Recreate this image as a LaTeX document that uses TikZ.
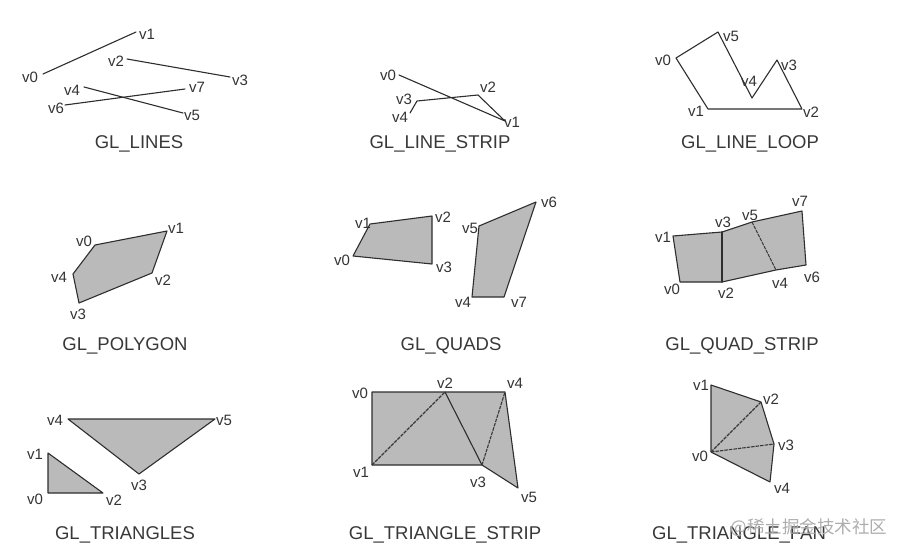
\documentclass[tikz,border=0pt]{standalone}
\usepackage{fontspec}
\setmainfont{Liberation Sans}
\newfontfamily\cjkwm{Noto Sans CJK SC}
\tikzset{
  vl/.style={font=\fontsize{15}{15}\selectfont,text=black!80,inner sep=0pt},
  ttl/.style={font=\fontsize{18.5}{18.5}\selectfont,text=black!78,inner sep=0pt},
  edge/.style={draw=black!82,line width=1.1pt,line join=round,line cap=round},
  inner edge/.style={draw=black!78,line width=1.1pt,dash pattern=on 3.5pt off 1pt},
  solid fill/.style={fill=black!27},
}
\begin{document}
\begin{tikzpicture}[x=1pt,y=-1pt]
\useasboundingbox (0,0) rectangle (905,557);
% GL_LINES
\coordinate (a0) at (43,74); \coordinate (a1) at (136,32);
\coordinate (a2) at (127,59); \coordinate (a3) at (230,77);
\coordinate (a4) at (84,87); \coordinate (a5) at (183,113);
\coordinate (a6) at (65,105); \coordinate (a7) at (185,89);
\draw[edge] (a0)--(a1); \draw[edge] (a2)--(a3); \draw[edge] (a4)--(a5); \draw[edge] (a6)--(a7);
\node[vl] (al0) at (30,77) {v0}; \node[vl] (al1) at (147,34) {v1};
\node[vl] (al2) at (116,61) {v2}; \node[vl] (al3) at (240,80) {v3};
\node[vl] (al4) at (72,90) {v4}; \node[vl] (al5) at (192,115) {v5};
\node[vl] (al6) at (56,108) {v6}; \node[vl] (al7) at (197,87) {v7};
\node[ttl] (at) at (139,144) {GL\_LINES};
% GL_LINE_STRIP
\coordinate (b0) at (399,75); \coordinate (b1) at (505,121); \coordinate (b2) at (478,95);
\coordinate (b3) at (417,101); \coordinate (b4) at (410,113);
\draw[edge] (b0)--(b1)--(b2)--(b3)--(b4);
\node[vl] (bl0) at (388,75) {v0}; \node[vl] (bl1) at (512,122) {v1}; \node[vl] (bl2) at (488,87) {v2};
\node[vl] (bl3) at (404,99) {v3}; \node[vl] (bl4) at (400,117) {v4};
\node[ttl] (bt) at (440,144) {GL\_LINE\_STRIP};
% GL_LINE_LOOP
\coordinate (c0) at (676,58); \coordinate (c1) at (708,109); \coordinate (c2) at (802,109);
\coordinate (c3) at (777,60); \coordinate (c4) at (752,98); \coordinate (c5) at (718,32);
\draw[edge] (c0)--(c1)--(c2)--(c3)--(c4)--(c5)--cycle;
\node[vl] (cl0) at (663,60) {v0}; \node[vl] (cl1) at (696,111) {v1}; \node[vl] (cl2) at (811,112) {v2};
\node[vl] (cl3) at (789,65) {v3}; \node[vl] (cl4) at (749,81) {v4}; \node[vl] (cl5) at (731,36) {v5};
\node[ttl] (ct) at (750,144) {GL\_LINE\_LOOP};
% GL_POLYGON
\coordinate (d0) at (95,245); \coordinate (d1) at (167,231); \coordinate (d2) at (152,273);
\coordinate (d3) at (79,303); \coordinate (d4) at (73,274);
\draw[edge,solid fill] (d0)--(d1)--(d2)--(d3)--(d4)--cycle;
\node[vl] (dl0) at (84,241) {v0}; \node[vl] (dl1) at (176,228) {v1}; \node[vl] (dl2) at (163,280) {v2};
\node[vl] (dl3) at (78,314) {v3}; \node[vl] (dl4) at (59,277) {v4};
\node[ttl] (dt) at (125,346) {GL\_POLYGON};
% GL_QUADS
\coordinate (e0) at (353,256); \coordinate (e1) at (370,224); \coordinate (e2) at (432,216); \coordinate (e3) at (432,264);
\coordinate (e4) at (472,297); \coordinate (e5) at (479,226); \coordinate (e6) at (536,202); \coordinate (e7) at (504,297);
\draw[edge,solid fill] (e0)--(e1)--(e2)--(e3)--cycle;
\draw[edge,solid fill] (e4)--(e5)--(e6)--(e7)--cycle;
\node[vl] (el0) at (342,260) {v0}; \node[vl] (el1) at (363,223) {v1}; \node[vl] (el2) at (443,217) {v2};
\node[vl] (el3) at (444,267) {v3}; \node[vl] (el4) at (463,302) {v4}; \node[vl] (el5) at (470,228) {v5};
\node[vl] (el6) at (549,202) {v6}; \node[vl] (el7) at (519,302) {v7};
\node[ttl] (et) at (451,346) {GL\_QUADS};
% GL_QUAD_STRIP
\coordinate (f0) at (680,282); \coordinate (f1) at (673,236); \coordinate (f2) at (722,282); \coordinate (f3) at (722,232);
\coordinate (f4) at (776,270); \coordinate (f5) at (752,222); \coordinate (f6) at (806,265); \coordinate (f7) at (802,211);
\draw[edge,solid fill] (f0)--(f1)--(f3)--(f5)--(f7)--(f6)--(f4)--(f2)--cycle;
\draw[edge,line width=1.6pt] (f3)--(f2); \draw[inner edge] (f5)--(f4);
\node[vl] (fl0) at (672,289) {v0}; \node[vl] (fl1) at (663,237) {v1}; \node[vl] (fl2) at (726,293) {v2};
\node[vl] (fl3) at (723,222) {v3}; \node[vl] (fl4) at (780,283) {v4}; \node[vl] (fl5) at (750,215) {v5};
\node[vl] (fl6) at (812,277) {v6}; \node[vl] (fl7) at (800,201) {v7};
\node[ttl] (ft) at (742,346) {GL\_QUAD\_STRIP};
% GL_TRIANGLES
\coordinate (g0) at (48,493); \coordinate (g1) at (48,453); \coordinate (g2) at (103,493);
\coordinate (g3) at (139,474); \coordinate (g4) at (68,419); \coordinate (g5) at (215,419);
\draw[edge,solid fill] (g0)--(g1)--(g2)--cycle;
\draw[edge,solid fill] (g3)--(g4)--(g5)--cycle;
\node[vl] (gl0) at (35,499) {v0}; \node[vl] (gl1) at (35,454) {v1}; \node[vl] (gl2) at (114,500) {v2};
\node[vl] (gl3) at (139,485) {v3}; \node[vl] (gl4) at (55,420) {v4}; \node[vl] (gl5) at (224,420) {v5};
\node[ttl] (gt) at (125,535) {GL\_TRIANGLES};
% GL_TRIANGLE_STRIP
\coordinate (h0) at (372,392); \coordinate (h1) at (372,465); \coordinate (h2) at (445,392);
\coordinate (h3) at (482,465); \coordinate (h4) at (505,392); \coordinate (h5) at (518,488);
\draw[edge,solid fill] (h0)--(h2)--(h4)--(h5)--(h3)--(h1)--cycle;
\draw[inner edge] (h1)--(h2); \draw[edge] (h2)--(h3); \draw[inner edge] (h3)--(h4);
\node[vl] (hl0) at (360,393) {v0}; \node[vl] (hl1) at (361,472) {v1}; \node[vl] (hl2) at (445,383) {v2};
\node[vl] (hl3) at (478,482) {v3}; \node[vl] (hl4) at (515,383) {v4}; \node[vl] (hl5) at (529,497) {v5};
\node[ttl] (ht) at (445,535) {GL\_TRIANGLE\_STRIP};
% GL_TRIANGLE_FAN
\coordinate (i0) at (711,452); \coordinate (i1) at (711,385); \coordinate (i2) at (761,402);
\coordinate (i3) at (774,444); \coordinate (i4) at (770,482);
\draw[edge,solid fill] (i0)--(i1)--(i2)--(i3)--(i4)--cycle;
\draw[inner edge] (i0)--(i2); \draw[inner edge] (i0)--(i3);
\node[vl] (il0) at (700,456) {v0}; \node[vl] (il1) at (701,385) {v1}; \node[vl] (il2) at (771,399) {v2};
\node[vl] (il3) at (786,445) {v3}; \node[vl] (il4) at (782,488) {v4};
\node[ttl] (it) at (739,535) {GL\_TRIANGLE\_FAN};
% watermark
\node[inner sep=0pt,text=black!32,font=\cjkwm\fontsize{17.5}{17.5}\selectfont] (wm) at (809,528) {@稀土掘金技术社区};
\end{tikzpicture}
\end{document}
